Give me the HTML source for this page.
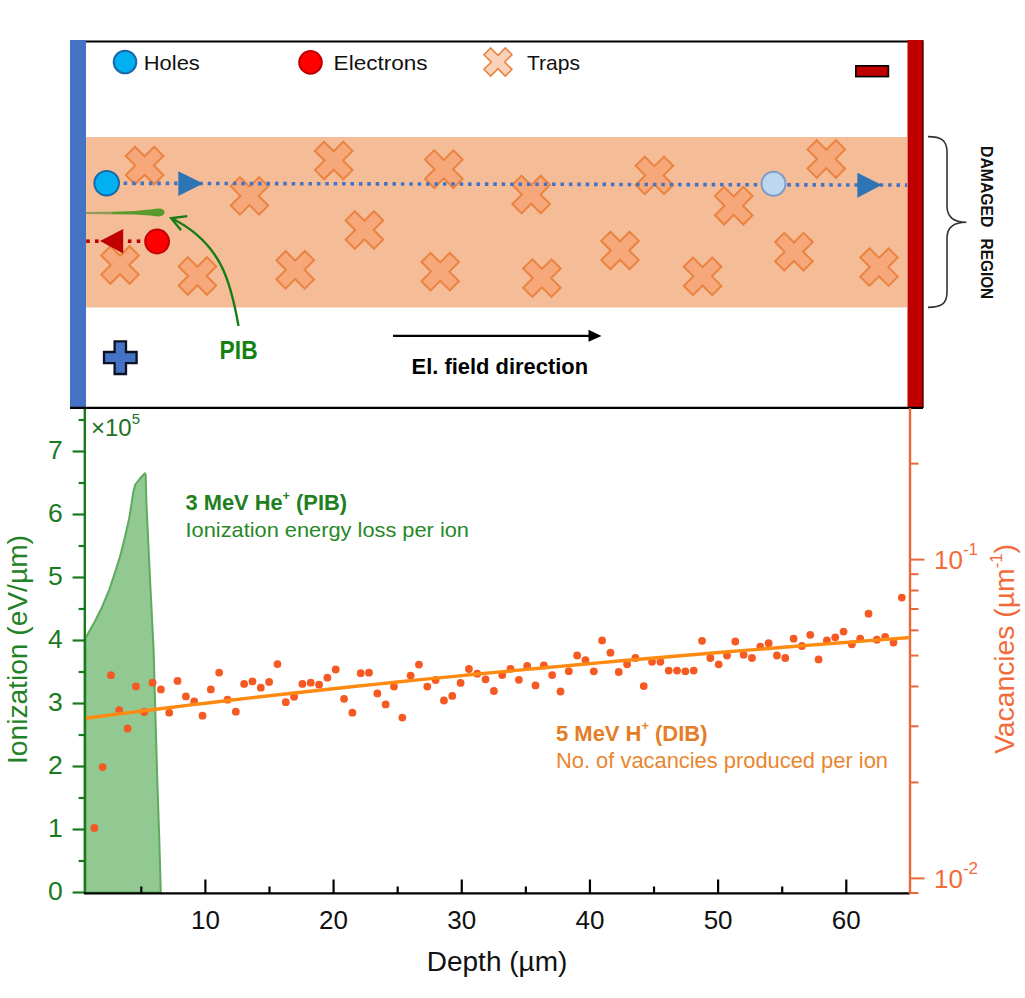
<!DOCTYPE html>
<html><head><meta charset="utf-8"><title>figure</title><style>
html,body{margin:0;padding:0;background:#fff;overflow:hidden;}
svg{display:block;}
text{font-family:"Liberation Sans",sans-serif;}
</style></head><body>
<svg width="1025" height="998" viewBox="0 0 1025 998">
<rect width="1025" height="998" fill="#fff"/>
<rect x="86" y="137" width="821" height="170.5" fill="#F4BD98"/>
<polygon points="135.00,146.70 144.60,156.30 154.20,146.70 163.40,155.90 153.80,165.50 163.40,175.10 154.20,184.30 144.60,174.70 135.00,184.30 125.80,175.10 135.40,165.50 125.80,155.90" fill="#F7A87B" stroke="#EB8340" stroke-width="2" stroke-linejoin="miter"/>
<polygon points="239.90,177.10 249.50,186.70 259.10,177.10 268.30,186.30 258.70,195.90 268.30,205.50 259.10,214.70 249.50,205.10 239.90,214.70 230.70,205.50 240.30,195.90 230.70,186.30" fill="#F7A87B" stroke="#EB8340" stroke-width="2" stroke-linejoin="miter"/>
<polygon points="324.10,141.70 333.70,151.30 343.30,141.70 352.50,150.90 342.90,160.50 352.50,170.10 343.30,179.30 333.70,169.70 324.10,179.30 314.90,170.10 324.50,160.50 314.90,150.90" fill="#F7A87B" stroke="#EB8340" stroke-width="2" stroke-linejoin="miter"/>
<polygon points="354.80,211.20 364.40,220.80 374.00,211.20 383.20,220.40 373.60,230.00 383.20,239.60 374.00,248.80 364.40,239.20 354.80,248.80 345.60,239.60 355.20,230.00 345.60,220.40" fill="#F7A87B" stroke="#EB8340" stroke-width="2" stroke-linejoin="miter"/>
<polygon points="434.20,150.40 443.80,160.00 453.40,150.40 462.60,159.60 453.00,169.20 462.60,178.80 453.40,188.00 443.80,178.40 434.20,188.00 425.00,178.80 434.60,169.20 425.00,159.60" fill="#F7A87B" stroke="#EB8340" stroke-width="2" stroke-linejoin="miter"/>
<polygon points="521.60,175.70 531.20,185.30 540.80,175.70 550.00,184.90 540.40,194.50 550.00,204.10 540.80,213.30 531.20,203.70 521.60,213.30 512.40,204.10 522.00,194.50 512.40,184.90" fill="#F7A87B" stroke="#EB8340" stroke-width="2" stroke-linejoin="miter"/>
<polygon points="644.80,156.60 654.40,166.20 664.00,156.60 673.20,165.80 663.60,175.40 673.20,185.00 664.00,194.20 654.40,184.60 644.80,194.20 635.60,185.00 645.20,175.40 635.60,165.80" fill="#F7A87B" stroke="#EB8340" stroke-width="2" stroke-linejoin="miter"/>
<polygon points="724.10,186.90 733.70,196.50 743.30,186.90 752.50,196.10 742.90,205.70 752.50,215.30 743.30,224.50 733.70,214.90 724.10,224.50 714.90,215.30 724.50,205.70 714.90,196.10" fill="#F7A87B" stroke="#EB8340" stroke-width="2" stroke-linejoin="miter"/>
<polygon points="816.70,140.20 826.30,149.80 835.90,140.20 845.10,149.40 835.50,159.00 845.10,168.60 835.90,177.80 826.30,168.20 816.70,177.80 807.50,168.60 817.10,159.00 807.50,149.40" fill="#F7A87B" stroke="#EB8340" stroke-width="2" stroke-linejoin="miter"/>
<polygon points="110.40,246.20 120.00,255.80 129.60,246.20 138.80,255.40 129.20,265.00 138.80,274.60 129.60,283.80 120.00,274.20 110.40,283.80 101.20,274.60 110.80,265.00 101.20,255.40" fill="#F7A87B" stroke="#EB8340" stroke-width="2" stroke-linejoin="miter"/>
<polygon points="187.80,257.20 197.40,266.80 207.00,257.20 216.20,266.40 206.60,276.00 216.20,285.60 207.00,294.80 197.40,285.20 187.80,294.80 178.60,285.60 188.20,276.00 178.60,266.40" fill="#F7A87B" stroke="#EB8340" stroke-width="2" stroke-linejoin="miter"/>
<polygon points="285.60,251.00 295.20,260.60 304.80,251.00 314.00,260.20 304.40,269.80 314.00,279.40 304.80,288.60 295.20,279.00 285.60,288.60 276.40,279.40 286.00,269.80 276.40,260.20" fill="#F7A87B" stroke="#EB8340" stroke-width="2" stroke-linejoin="miter"/>
<polygon points="430.60,252.80 440.20,262.40 449.80,252.80 459.00,262.00 449.40,271.60 459.00,281.20 449.80,290.40 440.20,280.80 430.60,290.40 421.40,281.20 431.00,271.60 421.40,262.00" fill="#F7A87B" stroke="#EB8340" stroke-width="2" stroke-linejoin="miter"/>
<polygon points="532.30,259.30 541.90,268.90 551.50,259.30 560.70,268.50 551.10,278.10 560.70,287.70 551.50,296.90 541.90,287.30 532.30,296.90 523.10,287.70 532.70,278.10 523.10,268.50" fill="#F7A87B" stroke="#EB8340" stroke-width="2" stroke-linejoin="miter"/>
<polygon points="610.40,231.70 620.00,241.30 629.60,231.70 638.80,240.90 629.20,250.50 638.80,260.10 629.60,269.30 620.00,259.70 610.40,269.30 601.20,260.10 610.80,250.50 601.20,240.90" fill="#F7A87B" stroke="#EB8340" stroke-width="2" stroke-linejoin="miter"/>
<polygon points="693.00,257.50 702.60,267.10 712.20,257.50 721.40,266.70 711.80,276.30 721.40,285.90 712.20,295.10 702.60,285.50 693.00,295.10 683.80,285.90 693.40,276.30 683.80,266.70" fill="#F7A87B" stroke="#EB8340" stroke-width="2" stroke-linejoin="miter"/>
<polygon points="784.30,232.90 793.90,242.50 803.50,232.90 812.70,242.10 803.10,251.70 812.70,261.30 803.50,270.50 793.90,260.90 784.30,270.50 775.10,261.30 784.70,251.70 775.10,242.10" fill="#F7A87B" stroke="#EB8340" stroke-width="2" stroke-linejoin="miter"/>
<polygon points="869.40,248.30 879.00,257.90 888.60,248.30 897.80,257.50 888.20,267.10 897.80,276.70 888.60,285.90 879.00,276.30 869.40,285.90 860.20,276.70 869.80,267.10 860.20,257.50" fill="#F7A87B" stroke="#EB8340" stroke-width="2" stroke-linejoin="miter"/>
<line x1="86" y1="41.5" x2="908" y2="41.5" stroke="#000" stroke-width="2.2"/>
<rect x="70" y="40" width="16" height="368" fill="#4472C4"/>
<rect x="907.5" y="40" width="16" height="368" fill="#C00000"/>
<line x1="922.8" y1="40.5" x2="922.8" y2="408" stroke="#500000" stroke-width="1.3"/>
<line x1="70" y1="407.8" x2="923" y2="407.8" stroke="#000" stroke-width="2.2"/>
<circle cx="125" cy="62" r="11.3" fill="#00B0F0" stroke="#1A68A8" stroke-width="2"/>
<circle cx="310.5" cy="62.4" r="11.3" fill="#FF0000" stroke="#C00000" stroke-width="2"/>
<polygon points="490.70,48.00 498.00,55.30 505.30,48.00 512.00,54.70 504.70,62.00 512.00,69.30 505.30,76.00 498.00,68.70 490.70,76.00 484.00,69.30 491.30,62.00 484.00,54.70" fill="#FAD2BA" stroke="#EA8340" stroke-width="1.6"/>
<text x="143.8" y="69.6" font-size="21" textLength="56" lengthAdjust="spacingAndGlyphs" fill="#111">Holes</text>
<text x="333.6" y="69.6" font-size="21" textLength="94" lengthAdjust="spacingAndGlyphs" fill="#111">Electrons</text>
<text x="527" y="69.6" font-size="21" textLength="53" lengthAdjust="spacingAndGlyphs" fill="#111">Traps</text>
<rect x="855.8" y="65.8" width="32.6" height="10.8" fill="#C00000" stroke="#000" stroke-width="1.6"/>
<line x1="123.7" y1="183.3" x2="907" y2="185.1" stroke="#4472C4" stroke-width="3.6" stroke-dasharray="3.5 4.9"/>
<polygon points="178.3,171.3 178.3,196 203.2,183.5" fill="#2E75B6"/>
<polygon points="857.4,172.7 857.4,197.7 881.8,185.1" fill="#2E75B6"/>
<circle cx="106.7" cy="183.2" r="12.3" fill="#00B0F0" stroke="#1A68A8" stroke-width="2"/>
<circle cx="773.5" cy="183.8" r="12" fill="#BDD7EE" stroke="#7F9CC8" stroke-width="2"/>
<path d="M86,212 L112,211.8 L135,211 L150,209.5 L158,208.4 Q165,208.6 164.5,212.4 Q164,216.2 158,216.4 L150,215.6 L135,214.6 L112,214.2 L86,214.1 Z" fill="#5A9A2C"/>
<rect x="86" y="212.2" width="26" height="1.8" fill="#9C9A5E"/>
<rect x="86.2" y="239.4" width="3.6" height="3.6" fill="#C00000"/>
<rect x="95" y="239.4" width="3.6" height="3.6" fill="#C00000"/>
<rect x="127.9" y="239.4" width="3.6" height="3.6" fill="#C00000"/>
<rect x="136.7" y="239.4" width="3.6" height="3.6" fill="#C00000"/>
<polygon points="123.2,229 123.2,253.4 100,241" fill="#C00000"/>
<circle cx="157.1" cy="241.5" r="11.9" fill="#FF0000" stroke="#C00000" stroke-width="2"/>
<path d="M238.5,326 C231,283 221.5,243 172,218.5" fill="none" stroke="#177C14" stroke-width="2.4"/>
<polyline points="187.3,216.1 171.2,218.2 181,230.2" fill="none" stroke="#177C14" stroke-width="2.4" stroke-linejoin="miter"/>
<text x="219.6" y="358.6" font-size="25" font-weight="bold" textLength="38" lengthAdjust="spacingAndGlyphs" fill="#138213">PIB</text>
<path d="M114.6,341.3 H126 V352 H136.6 V363.2 H126 V374 H114.6 V363.2 H104 V352 H114.6 Z" fill="#4472C4" stroke="#0C1222" stroke-width="2.3"/>
<line x1="393" y1="335.9" x2="590" y2="335.9" stroke="#000" stroke-width="2.4"/>
<polygon points="588.5,329.8 588.5,341.8 601.5,335.9" fill="#000"/>
<text x="411.6" y="373.8" font-size="21.5" font-weight="bold" textLength="176.5" lengthAdjust="spacingAndGlyphs" fill="#000">El. field direction</text>
<path d="M928,136.6 C941,136.6 947,140 947,152 L947,206 C947,216 953,222.3 966.5,222.3 C953,222.3 947,228 947,238 L947,292 C947,304 941,307.4 928,307.4" fill="none" stroke="#333" stroke-width="1.6"/>
<text transform="translate(981,146) rotate(90)" font-size="16" font-weight="bold" fill="#111" textLength="81.5" lengthAdjust="spacingAndGlyphs">DAMAGED</text>
<text transform="translate(981,238.6) rotate(90)" font-size="16" font-weight="bold" fill="#111" textLength="60.6" lengthAdjust="spacingAndGlyphs">REGION</text>
<polygon points="85.5,892.5 85.5,637.5 86.1,636.9 95.2,620.8 102.2,606.7 109.2,589.9 114.8,573.1 120.5,554.9 124.7,538 128.9,519.8 131.3,505 133.3,492 135.3,484.5 140,478.5 144.9,473.2 145.7,475 146.3,500 149.1,560.2 152.1,620.3 153.6,650 155,700 157.3,780 159.3,840 160.8,892.5" fill="#92C892" stroke="#5EAA5E" stroke-width="2" stroke-linejoin="round"/>
<line x1="84.8" y1="409" x2="84.8" y2="894" stroke="#187A1C" stroke-width="2.4"/>
<line x1="72.6" y1="892.50" x2="84.8" y2="892.50" stroke="#187A1C" stroke-width="2.2"/>
<line x1="78.6" y1="861.00" x2="84.8" y2="861.00" stroke="#187A1C" stroke-width="2.2"/>
<line x1="72.6" y1="829.50" x2="84.8" y2="829.50" stroke="#187A1C" stroke-width="2.2"/>
<line x1="78.6" y1="798.00" x2="84.8" y2="798.00" stroke="#187A1C" stroke-width="2.2"/>
<line x1="72.6" y1="766.50" x2="84.8" y2="766.50" stroke="#187A1C" stroke-width="2.2"/>
<line x1="78.6" y1="735.00" x2="84.8" y2="735.00" stroke="#187A1C" stroke-width="2.2"/>
<line x1="72.6" y1="703.50" x2="84.8" y2="703.50" stroke="#187A1C" stroke-width="2.2"/>
<line x1="78.6" y1="672.00" x2="84.8" y2="672.00" stroke="#187A1C" stroke-width="2.2"/>
<line x1="72.6" y1="640.50" x2="84.8" y2="640.50" stroke="#187A1C" stroke-width="2.2"/>
<line x1="78.6" y1="609.00" x2="84.8" y2="609.00" stroke="#187A1C" stroke-width="2.2"/>
<line x1="72.6" y1="577.50" x2="84.8" y2="577.50" stroke="#187A1C" stroke-width="2.2"/>
<line x1="78.6" y1="546.00" x2="84.8" y2="546.00" stroke="#187A1C" stroke-width="2.2"/>
<line x1="72.6" y1="514.50" x2="84.8" y2="514.50" stroke="#187A1C" stroke-width="2.2"/>
<line x1="78.6" y1="483.00" x2="84.8" y2="483.00" stroke="#187A1C" stroke-width="2.2"/>
<line x1="72.6" y1="451.50" x2="84.8" y2="451.50" stroke="#187A1C" stroke-width="2.2"/>
<line x1="78.6" y1="420.00" x2="84.8" y2="420.00" stroke="#187A1C" stroke-width="2.2"/>
<text x="62.8" y="900.30" font-size="26.5" text-anchor="end" fill="#1A7A22">0</text>
<text x="62.8" y="837.30" font-size="26.5" text-anchor="end" fill="#1A7A22">1</text>
<text x="62.8" y="774.30" font-size="26.5" text-anchor="end" fill="#1A7A22">2</text>
<text x="62.8" y="711.30" font-size="26.5" text-anchor="end" fill="#1A7A22">3</text>
<text x="62.8" y="648.30" font-size="26.5" text-anchor="end" fill="#1A7A22">4</text>
<text x="62.8" y="585.30" font-size="26.5" text-anchor="end" fill="#1A7A22">5</text>
<text x="62.8" y="522.30" font-size="26.5" text-anchor="end" fill="#1A7A22">6</text>
<text x="62.8" y="459.30" font-size="26.5" text-anchor="end" fill="#1A7A22">7</text>
<text x="91" y="436" font-size="24" fill="#237028">×10<tspan font-size="15" dy="-12.5">5</tspan></text>
<text transform="translate(27,764) rotate(-90)" font-size="26.8" fill="#1F8226" textLength="229" lengthAdjust="spacingAndGlyphs">Ionization (eV/µm)</text>
<line x1="84" y1="893.4" x2="910" y2="893.4" stroke="#000" stroke-width="2.4"/>
<line x1="141.31" y1="893.4" x2="141.31" y2="886.5" stroke="#000" stroke-width="2.2"/>
<line x1="205.40" y1="893.4" x2="205.40" y2="879.5" stroke="#000" stroke-width="2.2"/>
<line x1="269.49" y1="893.4" x2="269.49" y2="886.5" stroke="#000" stroke-width="2.2"/>
<line x1="333.58" y1="893.4" x2="333.58" y2="879.5" stroke="#000" stroke-width="2.2"/>
<line x1="397.67" y1="893.4" x2="397.67" y2="886.5" stroke="#000" stroke-width="2.2"/>
<line x1="461.76" y1="893.4" x2="461.76" y2="879.5" stroke="#000" stroke-width="2.2"/>
<line x1="525.85" y1="893.4" x2="525.85" y2="886.5" stroke="#000" stroke-width="2.2"/>
<line x1="589.94" y1="893.4" x2="589.94" y2="879.5" stroke="#000" stroke-width="2.2"/>
<line x1="654.03" y1="893.4" x2="654.03" y2="886.5" stroke="#000" stroke-width="2.2"/>
<line x1="718.12" y1="893.4" x2="718.12" y2="879.5" stroke="#000" stroke-width="2.2"/>
<line x1="782.21" y1="893.4" x2="782.21" y2="886.5" stroke="#000" stroke-width="2.2"/>
<line x1="846.30" y1="893.4" x2="846.30" y2="879.5" stroke="#000" stroke-width="2.2"/>
<text x="205.40" y="928.5" font-size="26" text-anchor="middle" fill="#111">10</text>
<text x="333.58" y="928.5" font-size="26" text-anchor="middle" fill="#111">20</text>
<text x="461.76" y="928.5" font-size="26" text-anchor="middle" fill="#111">30</text>
<text x="589.94" y="928.5" font-size="26" text-anchor="middle" fill="#111">40</text>
<text x="718.12" y="928.5" font-size="26" text-anchor="middle" fill="#111">50</text>
<text x="846.30" y="928.5" font-size="26" text-anchor="middle" fill="#111">60</text>
<text x="426.8" y="970.5" font-size="27" fill="#111" textLength="140.5" lengthAdjust="spacingAndGlyphs">Depth (µm)</text>
<line x1="910" y1="408" x2="910" y2="894" stroke="#E8683A" stroke-width="2.4"/>
<line x1="910" y1="892.99" x2="918.5" y2="892.99" stroke="#E8683A" stroke-width="2"/>
<line x1="910" y1="878.40" x2="924.5" y2="878.40" stroke="#E8683A" stroke-width="2"/>
<line x1="910" y1="782.43" x2="918.5" y2="782.43" stroke="#E8683A" stroke-width="2"/>
<line x1="910" y1="726.29" x2="918.5" y2="726.29" stroke="#E8683A" stroke-width="2"/>
<line x1="910" y1="686.46" x2="918.5" y2="686.46" stroke="#E8683A" stroke-width="2"/>
<line x1="910" y1="655.57" x2="918.5" y2="655.57" stroke="#E8683A" stroke-width="2"/>
<line x1="910" y1="630.33" x2="918.5" y2="630.33" stroke="#E8683A" stroke-width="2"/>
<line x1="910" y1="608.98" x2="918.5" y2="608.98" stroke="#E8683A" stroke-width="2"/>
<line x1="910" y1="590.49" x2="918.5" y2="590.49" stroke="#E8683A" stroke-width="2"/>
<line x1="910" y1="574.19" x2="918.5" y2="574.19" stroke="#E8683A" stroke-width="2"/>
<line x1="910" y1="559.60" x2="924.5" y2="559.60" stroke="#E8683A" stroke-width="2"/>
<line x1="910" y1="463.63" x2="918.5" y2="463.63" stroke="#E8683A" stroke-width="2"/>
<text x="934" y="569.10" font-size="26" fill="#F26B3A">10<tspan font-size="17" dy="-14">-1</tspan></text>
<text x="934" y="887.90" font-size="26" fill="#F26B3A">10<tspan font-size="17" dy="-14">-2</tspan></text>
<text transform="translate(1014,754) rotate(-90)" font-size="27" fill="#F26B3A" textLength="210" lengthAdjust="spacingAndGlyphs">Vacancies (µm<tspan font-size="16" dy="-12">-1</tspan><tspan dy="12">)</tspan></text>
<circle cx="94.30" cy="828" r="3.9" fill="#F45A22"/>
<circle cx="102.62" cy="767.1" r="3.9" fill="#F45A22"/>
<circle cx="110.95" cy="675.2" r="3.9" fill="#F45A22"/>
<circle cx="119.27" cy="710.2" r="3.9" fill="#F45A22"/>
<circle cx="127.60" cy="728.5" r="3.9" fill="#F45A22"/>
<circle cx="135.93" cy="686.4" r="3.9" fill="#F45A22"/>
<circle cx="144.25" cy="712" r="3.9" fill="#F45A22"/>
<circle cx="152.57" cy="682.7" r="3.9" fill="#F45A22"/>
<circle cx="160.90" cy="689.4" r="3.9" fill="#F45A22"/>
<circle cx="169.22" cy="712.7" r="3.9" fill="#F45A22"/>
<circle cx="177.55" cy="680.9" r="3.9" fill="#F45A22"/>
<circle cx="185.88" cy="696.4" r="3.9" fill="#F45A22"/>
<circle cx="194.20" cy="701.5" r="3.9" fill="#F45A22"/>
<circle cx="202.52" cy="715.7" r="3.9" fill="#F45A22"/>
<circle cx="210.85" cy="689.4" r="3.9" fill="#F45A22"/>
<circle cx="219.17" cy="672.6" r="3.9" fill="#F45A22"/>
<circle cx="227.50" cy="699.7" r="3.9" fill="#F45A22"/>
<circle cx="235.82" cy="711.7" r="3.9" fill="#F45A22"/>
<circle cx="244.15" cy="683.9" r="3.9" fill="#F45A22"/>
<circle cx="252.47" cy="681.4" r="3.9" fill="#F45A22"/>
<circle cx="260.80" cy="687.7" r="3.9" fill="#F45A22"/>
<circle cx="269.12" cy="681.9" r="3.9" fill="#F45A22"/>
<circle cx="277.45" cy="664.1" r="3.9" fill="#F45A22"/>
<circle cx="285.77" cy="702.2" r="3.9" fill="#F45A22"/>
<circle cx="294.10" cy="696.7" r="3.9" fill="#F45A22"/>
<circle cx="302.42" cy="683.9" r="3.9" fill="#F45A22"/>
<circle cx="310.75" cy="682.7" r="3.9" fill="#F45A22"/>
<circle cx="319.07" cy="684.7" r="3.9" fill="#F45A22"/>
<circle cx="327.40" cy="677.7" r="3.9" fill="#F45A22"/>
<circle cx="335.72" cy="669.5" r="3.9" fill="#F45A22"/>
<circle cx="344.05" cy="698.8" r="3.9" fill="#F45A22"/>
<circle cx="352.38" cy="712.7" r="3.9" fill="#F45A22"/>
<circle cx="360.70" cy="673.2" r="3.9" fill="#F45A22"/>
<circle cx="369.02" cy="672.7" r="3.9" fill="#F45A22"/>
<circle cx="377.35" cy="693.4" r="3.9" fill="#F45A22"/>
<circle cx="385.68" cy="704.4" r="3.9" fill="#F45A22"/>
<circle cx="394.00" cy="686.6" r="3.9" fill="#F45A22"/>
<circle cx="402.32" cy="717.6" r="3.9" fill="#F45A22"/>
<circle cx="410.65" cy="675.6" r="3.9" fill="#F45A22"/>
<circle cx="418.97" cy="664.6" r="3.9" fill="#F45A22"/>
<circle cx="427.30" cy="686.6" r="3.9" fill="#F45A22"/>
<circle cx="435.62" cy="680" r="3.9" fill="#F45A22"/>
<circle cx="443.95" cy="700.5" r="3.9" fill="#F45A22"/>
<circle cx="452.27" cy="695.9" r="3.9" fill="#F45A22"/>
<circle cx="460.60" cy="682.9" r="3.9" fill="#F45A22"/>
<circle cx="468.92" cy="669" r="3.9" fill="#F45A22"/>
<circle cx="477.25" cy="673.7" r="3.9" fill="#F45A22"/>
<circle cx="485.57" cy="679.3" r="3.9" fill="#F45A22"/>
<circle cx="493.90" cy="691" r="3.9" fill="#F45A22"/>
<circle cx="502.22" cy="675.1" r="3.9" fill="#F45A22"/>
<circle cx="510.55" cy="668.8" r="3.9" fill="#F45A22"/>
<circle cx="518.88" cy="679.8" r="3.9" fill="#F45A22"/>
<circle cx="527.20" cy="665.9" r="3.9" fill="#F45A22"/>
<circle cx="535.52" cy="685.4" r="3.9" fill="#F45A22"/>
<circle cx="543.85" cy="665.4" r="3.9" fill="#F45A22"/>
<circle cx="552.17" cy="675.1" r="3.9" fill="#F45A22"/>
<circle cx="560.50" cy="691.5" r="3.9" fill="#F45A22"/>
<circle cx="568.82" cy="671.2" r="3.9" fill="#F45A22"/>
<circle cx="577.15" cy="655.5" r="3.9" fill="#F45A22"/>
<circle cx="585.47" cy="660.1" r="3.9" fill="#F45A22"/>
<circle cx="593.80" cy="671.3" r="3.9" fill="#F45A22"/>
<circle cx="602.12" cy="640.4" r="3.9" fill="#F45A22"/>
<circle cx="610.45" cy="652.7" r="3.9" fill="#F45A22"/>
<circle cx="618.77" cy="672" r="3.9" fill="#F45A22"/>
<circle cx="627.10" cy="664.3" r="3.9" fill="#F45A22"/>
<circle cx="635.42" cy="658" r="3.9" fill="#F45A22"/>
<circle cx="643.75" cy="686.1" r="3.9" fill="#F45A22"/>
<circle cx="652.07" cy="661.8" r="3.9" fill="#F45A22"/>
<circle cx="660.40" cy="661.8" r="3.9" fill="#F45A22"/>
<circle cx="668.72" cy="670.6" r="3.9" fill="#F45A22"/>
<circle cx="677.05" cy="670.6" r="3.9" fill="#F45A22"/>
<circle cx="685.37" cy="671.3" r="3.9" fill="#F45A22"/>
<circle cx="693.70" cy="670.6" r="3.9" fill="#F45A22"/>
<circle cx="702.02" cy="640.8" r="3.9" fill="#F45A22"/>
<circle cx="710.35" cy="658" r="3.9" fill="#F45A22"/>
<circle cx="718.67" cy="664.3" r="3.9" fill="#F45A22"/>
<circle cx="727.00" cy="655.5" r="3.9" fill="#F45A22"/>
<circle cx="735.32" cy="641.5" r="3.9" fill="#F45A22"/>
<circle cx="743.65" cy="654.8" r="3.9" fill="#F45A22"/>
<circle cx="751.97" cy="658" r="3.9" fill="#F45A22"/>
<circle cx="760.30" cy="646.7" r="3.9" fill="#F45A22"/>
<circle cx="768.62" cy="643.2" r="3.9" fill="#F45A22"/>
<circle cx="776.95" cy="655.5" r="3.9" fill="#F45A22"/>
<circle cx="785.27" cy="658" r="3.9" fill="#F45A22"/>
<circle cx="793.60" cy="638.7" r="3.9" fill="#F45A22"/>
<circle cx="801.92" cy="646" r="3.9" fill="#F45A22"/>
<circle cx="810.25" cy="634.8" r="3.9" fill="#F45A22"/>
<circle cx="818.57" cy="659.4" r="3.9" fill="#F45A22"/>
<circle cx="826.90" cy="640.4" r="3.9" fill="#F45A22"/>
<circle cx="835.22" cy="637.3" r="3.9" fill="#F45A22"/>
<circle cx="843.55" cy="631.6" r="3.9" fill="#F45A22"/>
<circle cx="851.87" cy="644.3" r="3.9" fill="#F45A22"/>
<circle cx="860.20" cy="638.7" r="3.9" fill="#F45A22"/>
<circle cx="868.52" cy="613.7" r="3.9" fill="#F45A22"/>
<circle cx="876.85" cy="639.7" r="3.9" fill="#F45A22"/>
<circle cx="885.17" cy="636.9" r="3.9" fill="#F45A22"/>
<circle cx="893.50" cy="642.5" r="3.9" fill="#F45A22"/>
<circle cx="901.82" cy="597.6" r="3.9" fill="#F45A22"/>
<polyline points="86.0,718.24 106.6,715.52 127.2,712.86 147.8,710.25 168.4,707.69 189.0,705.18 209.6,702.71 230.2,700.28 250.8,697.89 271.4,695.55 292.0,693.24 312.6,690.98 333.2,688.75 353.8,686.55 374.4,684.39 395.0,682.26 415.6,680.17 436.2,678.10 456.8,676.07 477.4,674.06 498.0,672.09 518.6,670.14 539.2,668.22 559.8,666.33 580.4,664.46 601.0,662.61 621.6,660.79 642.2,659.00 662.8,657.22 683.4,655.47 704.0,653.75 724.6,652.04 745.2,650.35 765.8,648.69 786.4,647.04 807.0,645.41 827.6,643.81 848.2,642.22 868.8,640.65 889.4,639.09 910.0,637.56" fill="none" stroke="#FF8A12" stroke-width="3.4"/>
<text x="185.5" y="510.4" font-size="22.5" font-weight="bold" fill="#1E801E" textLength="161.5" lengthAdjust="spacingAndGlyphs">3 MeV He<tspan font-size="13" dy="-10.5">+</tspan><tspan dy="10.5"> (PIB)</tspan></text>
<text x="185.5" y="537.1" font-size="21" fill="#268826" textLength="283.5" lengthAdjust="spacingAndGlyphs">Ionization energy loss per ion</text>
<text x="556" y="740.5" font-size="22.5" font-weight="bold" fill="#E47E26" textLength="151.5" lengthAdjust="spacingAndGlyphs">5 MeV H<tspan font-size="13" dy="-10.5">+</tspan><tspan dy="10.5"> (DIB)</tspan></text>
<text x="556" y="767.6" font-size="21.3" fill="#EA8630" textLength="332" lengthAdjust="spacingAndGlyphs">No. of vacancies produced per ion</text>
</svg></body></html>
